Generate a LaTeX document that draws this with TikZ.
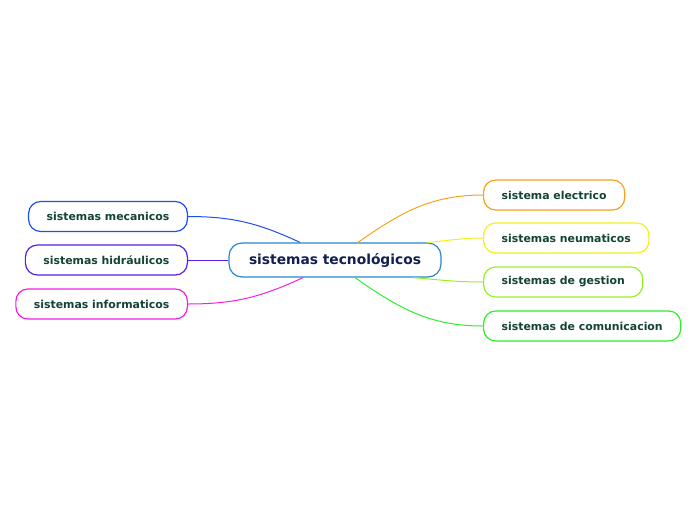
\documentclass[tikz,border=0pt]{standalone}
\usepackage{fontspec}
\setmainfont{DejaVu Sans}
\usetikzlibrary{calc,positioning}
\definecolor{hub}{HTML}{2A86CC}
\definecolor{hubtext}{HTML}{102050}
\definecolor{leaftext}{HTML}{134336}
\definecolor{cmec}{HTML}{1E50F0}
\definecolor{chid}{HTML}{5A1FE6}
\definecolor{cinf}{HTML}{F020E8}
\definecolor{cele}{HTML}{F7A11E}
\definecolor{cneu}{HTML}{F2F020}
\definecolor{cges}{HTML}{96F028}
\definecolor{ccom}{HTML}{2EEE2A}

\begin{document}
\begin{tikzpicture}[x=1pt,y=-1pt,
	leaf/.style={draw,very thick,rounded corners=12pt,fill=white,minimum height=30pt,inner xsep=18pt,text=leaftext,font=\fontsize{10.9}{12}\selectfont\bfseries},
	link/.style={line width=1pt}]
		\useasboundingbox (0,0) rectangle (696,520);
		
		\node[draw=hub,very thick,rounded corners=13pt,fill=white,minimum height=34pt,inner xsep=20pt,text=hubtext,font=\fontsize{13.8}{15}\selectfont\bfseries] (tec) at (335,260) {sistemas tecnológicos};
		
		\node[leaf,draw=cmec,anchor=east] (mec) at (188,216.5) {sistemas mecanicos};
		\node[leaf,draw=chid,anchor=east] (hid) at (188,260) {sistemas hidráulicos};
		\node[leaf,draw=cinf,anchor=east] (inf) at (188,304) {sistemas informaticos};
		
		\node[leaf,draw=cele,anchor=west] (ele) at (483,195) {sistema electrico};
		\node[leaf,draw=cneu,anchor=west] (neu) at (483,238) {sistemas neumaticos};
		\node[leaf,draw=cges,anchor=west] (ges) at (483,282) {sistemas de gestion};
		\node[leaf,draw=ccom,anchor=west] (com) at (483,326) {sistemas de comunicacion};
		
		\draw[link,cmec] ($(tec.north)+(-35,0)$) to[out=155,in=0] (mec.east);
		\draw[link,chid] (tec.west) -- (hid.east);
		\draw[link,cinf] ($(tec.south)+(-32,0)$) to[out=205,in=0] (inf.east);
		\draw[link,cele] ($(tec.north)+(23,0)$) to[out=35,in=180] (ele.west);
		\draw[link,cneu] ($(tec.north east)+(-14,0)$) to[out=5,in=180] (neu.west);
		\draw[link,cges] ($(tec.south east)+(-28,0)$) to[out=-5,in=180] (ges.west);
		\draw[link,ccom] ($(tec.south)+(20,0)$) to[out=-35,in=180] (com.west);
		
	\end{tikzpicture}
\end{document}
